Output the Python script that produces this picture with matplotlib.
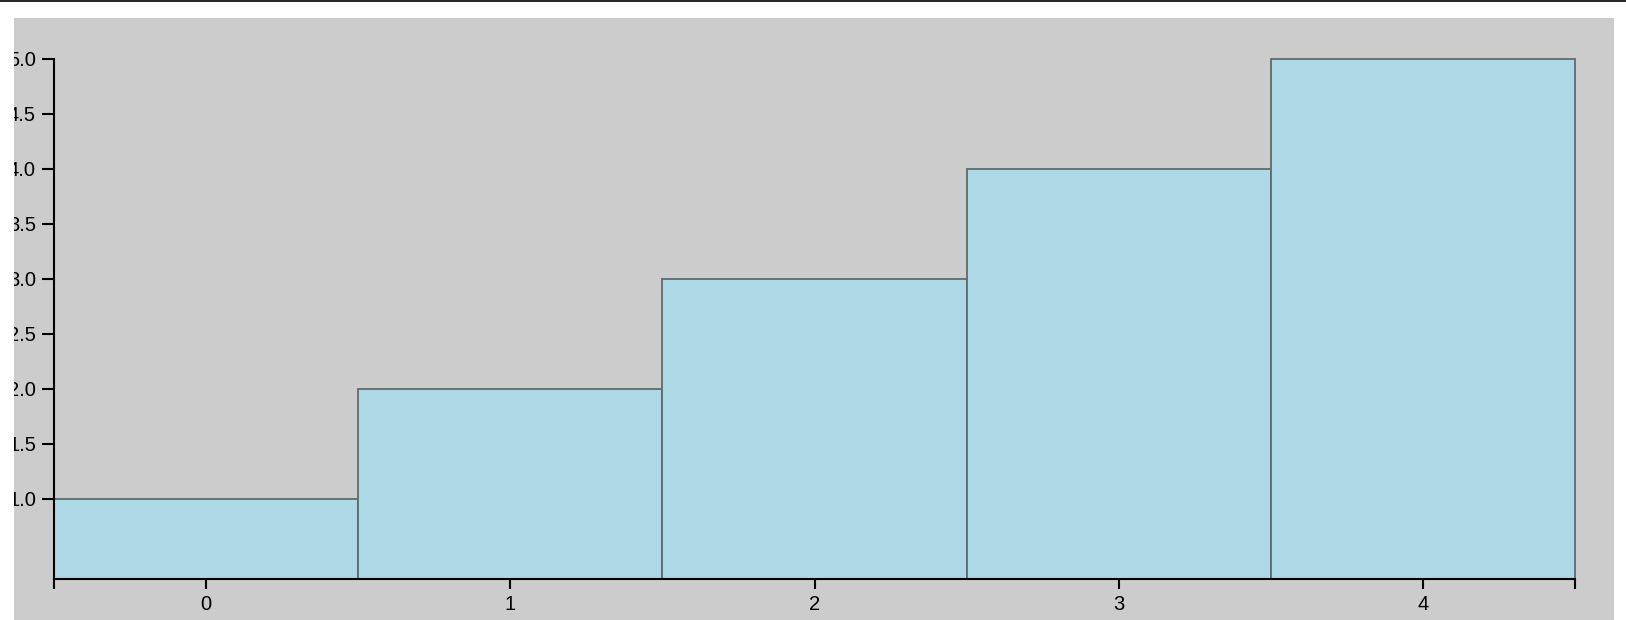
import matplotlib.pyplot as plt
from matplotlib.patches import Rectangle
from matplotlib.transforms import Bbox

# data
categorias = [0, 1, 2, 3, 4]
valores = [1.0, 2.0, 3.0, 4.0, 5.0]
yticks = [1.0, 1.5, 2.0, 2.5, 3.0, 3.5, 4.0, 4.5, 5.0]

W, H = 1626, 620
Y0 = 0.27
plt.rcParams['font.family'] = ['Liberation Sans', 'DejaVu Sans']

fig = plt.figure(figsize=(W / 100, H / 100), dpi=100, facecolor='white')

# fondo gris y linea oscura arriba
fondo = Rectangle((14 / W, 0), (1614 - 14) / W, (H - 18) / H,
                  transform=fig.transFigure, facecolor='#cccccc',
                  edgecolor='none', zorder=-10)
fig.patches.append(fondo)
fig.patches.append(Rectangle((0, (H - 2) / H), 1, 2 / H, transform=fig.transFigure,
                             facecolor='#2a2a2a', edgecolor='none', zorder=-10))

ax = fig.add_axes([54 / W, (H - 579) / H, (1575 - 54) / W, (579 - 59) / H])
ax.set_zorder(1)
ax.set_facecolor('none')

barras = ax.bar(categorias, [v - Y0 for v in valores], bottom=Y0, width=1.0,
                color='#add8e6', edgecolor='#5f6b6e', linewidth=1.3, zorder=2)
for b in barras:
    b.set_clip_on(False)

ax.set_xlim(-0.5, 4.5)
ax.set_ylim(Y0, 5.0)
ax.set_xticks(categorias)
ax.set_xticks([-0.5, 4.5], minor=True)
ax.set_yticks(yticks)
ax.set_yticklabels([f'{v:.1f}' for v in yticks])

for s in ['top', 'right']:
    ax.spines[s].set_visible(False)
for s in ['left', 'bottom']:
    ax.spines[s].set_linewidth(1.5)
    ax.spines[s].set_color('black')
    ax.spines[s].set_zorder(3)

ax.tick_params(axis='both', which='both', width=1.5, color='black',
               labelsize=14.5)
ax.tick_params(axis='y', length=8.5, pad=4.5)
ax.tick_params(axis='x', which='both', length=7.5, pad=4.0)
ax.tick_params(axis='x', which='minor', labelbottom=False)

# las etiquetas del eje y se recortan en el borde del fondo
clip = Bbox.from_extents(14, 0, 1614, H - 18)
for t in ax.yaxis.get_major_ticks():
    t.label1.set_clip_on(True)
    t.label1.set_clip_box(clip)

fig.savefig('out.png', dpi=100, facecolor='white')
